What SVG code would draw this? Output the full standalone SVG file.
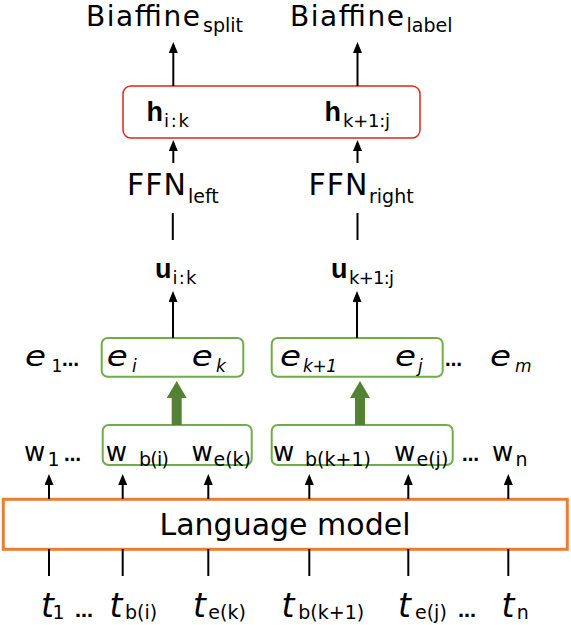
<svg xmlns="http://www.w3.org/2000/svg" width="571" height="625" viewBox="0 0 571 625">
<style>
text{font-family:"DejaVu Sans",sans-serif;fill:#000}
.big{font-size:28px}
.sub{font-size:19px}
.ffn{font-size:30px}
.hb{font-family:"Liberation Sans",Arial,sans-serif;font-size:27px;font-weight:bold}
.hs{font-size:18px}
.ev{font-size:28px;font-style:italic}
.es{font-size:17px;font-style:italic}
.wv{font-size:26px}
.ws{font-size:19px}
.tv{font-size:33px;font-style:italic}
.ts{font-size:19px}
.dots{font-size:17px;font-weight:bold}
.lm{font-size:30px}
.ln{stroke:#000;stroke-width:2;fill:none}
.arr{marker-end:url(#ah)}
.gbox{fill:none;stroke:#70AD47;stroke-width:2}
.garrow{fill:#548235}
</style>
<defs>
<marker id="ah" markerUnits="userSpaceOnUse" markerWidth="11" markerHeight="9" viewBox="0 0 11 9" refX="8" refY="4.5" orient="auto"><path d="M0,0 L11,4.5 L0,9 z" fill="#000"/></marker>
</defs>
<rect width="571" height="625" fill="#fff"/>

<g id="biaffine-split"><text class="big" x="86" y="26" textLength="114">Biaffine</text><text class="sub" x="203" y="32">split</text></g>
<g id="biaffine-label"><text class="big" x="290" y="26" textLength="114">Biaffine</text><text class="sub" x="406.5" y="32">label</text></g>

<g id="h-box">
<rect x="123" y="86" width="297" height="52" rx="8" fill="#fff" stroke="#E0261E" stroke-width="1.5"/>
<text class="hb" x="146.5" y="121">h</text><text class="hs" x="164" y="127" textLength="25">i:k</text>
<text class="hb" x="324.5" y="121">h</text><text class="hs" x="343" y="127" textLength="47">k+1:j</text>
</g>

<g id="ffn-left"><text class="ffn" x="127" y="195" textLength="59">FFN</text><text class="sub" x="188" y="203">left</text></g>
<g id="ffn-right"><text class="ffn" x="308.5" y="195" textLength="59">FFN</text><text class="sub" x="369" y="203">right</text></g>

<g id="u-left"><text class="hb" x="155" y="278">u</text><text class="hs" x="172.5" y="284" textLength="24">i:k</text></g>
<g id="u-right"><text class="hb" x="331" y="278">u</text><text class="hs" x="349" y="284" textLength="45">k+1:j</text></g>

<g id="e-row">
<text class="ev" x="25" y="366" textLength="21" lengthAdjust="spacingAndGlyphs">e</text><text class="ws" x="51.5" y="372" style="font-size:17px">1</text>
<text class="dots" x="62" y="366">…</text>
<text class="dots" x="445" y="366">…</text>
<text class="ev" x="490" y="366" textLength="21" lengthAdjust="spacingAndGlyphs">e</text><text class="es" x="515" y="372">m</text>
</g>
<g id="e-span-left">
<rect class="gbox" x="101.7" y="338" width="141.6" height="38.7" rx="6"/>
<text class="ev" x="106.7" y="366" textLength="21" lengthAdjust="spacingAndGlyphs">e</text><text class="es" x="132" y="372">i</text>
<text class="ev" x="191.7" y="366" textLength="21" lengthAdjust="spacingAndGlyphs">e</text><text class="es" x="216" y="372">k</text>
</g>
<g id="e-span-right">
<rect class="gbox" x="271.7" y="338" width="171" height="38.7" rx="6"/>
<text class="ev" x="280" y="366" textLength="21" lengthAdjust="spacingAndGlyphs">e</text><text class="es" x="303" y="372" textLength="34">k+1</text>
<text class="ev" x="395" y="366" textLength="21" lengthAdjust="spacingAndGlyphs">e</text><text class="es" x="418" y="372">j</text>
</g>

<g id="w-row">
<text class="wv" x="24" y="461">w</text><text class="ws" x="47.5" y="466">1</text>
<text class="dots" x="64" y="461">…</text>
<text class="dots" x="462" y="461">…</text>
<text class="wv" x="492" y="461">w</text><text class="ws" x="515.5" y="466">n</text>
</g>
<g id="w-span-left">
<rect class="gbox" x="102.7" y="425" width="149" height="40" rx="6"/>
<text class="wv" x="105.7" y="461">w</text><text class="ws" x="139" y="466" textLength="30">b(i)</text>
<text class="wv" x="191.5" y="461">w</text><text class="ws" x="213.5" y="466">e(k)</text>
</g>
<g id="w-span-right">
<rect class="gbox" x="271.7" y="425" width="181" height="40" rx="6"/>
<text class="wv" x="273" y="461">w</text><text class="ws" x="305" y="466">b(k+1)</text>
<text class="wv" x="394" y="461">w</text><text class="ws" x="416.5" y="466">e(j)</text>
</g>

<g id="language-model">
<rect x="3.3" y="499.3" width="564" height="50" fill="#fff" stroke="#ED7D31" stroke-width="3"/>
<text class="lm" x="285" y="535" text-anchor="middle" textLength="251">Language model</text>
</g>

<g id="t-row">
<text class="tv" x="41" y="617">t</text><text class="ts" x="52.5" y="619">1</text>
<text class="dots" x="75" y="617" style="font-size:18px">…</text>
<text class="tv" x="109.5" y="617">t</text><text class="ts" x="125" y="619">b(i)</text>
<text class="tv" x="193" y="617">t</text><text class="ts" x="208.3" y="619">e(k)</text>
<text class="tv" x="281.5" y="617">t</text><text class="ts" x="298.3" y="619">b(k+1)</text>
<text class="tv" x="398" y="617">t</text><text class="ts" x="415" y="619">e(j)</text>
<text class="dots" x="458" y="617" style="font-size:18px">…</text>
<text class="tv" x="501.5" y="617">t</text><text class="ts" x="516.7" y="619">n</text>
</g>

<g id="connectors">
<line class="ln arr" x1="173.3" y1="86" x2="173.3" y2="45"/>
<line class="ln arr" x1="357.5" y1="86" x2="357.5" y2="45"/>
<line class="ln arr" x1="173.3" y1="163" x2="173.3" y2="143"/>
<line class="ln arr" x1="357.5" y1="163" x2="357.5" y2="143"/>
<line class="ln" x1="172.8" y1="213" x2="172.8" y2="240"/>
<line class="ln" x1="357.5" y1="213" x2="357.5" y2="240"/>
<line class="ln arr" x1="173" y1="338" x2="173" y2="294"/>
<line class="ln arr" x1="357" y1="338" x2="357" y2="294"/>
<polygon class="garrow" points="176.7,381 186.7,398 181.7,398 181.7,425 171.7,425 171.7,398 166.7,398"/>
<polygon class="garrow" points="360,381 370,398 365,398 365,425 355,425 355,398 350,398"/>
<line class="ln arr" x1="49" y1="499" x2="49" y2="477"/>
<line class="ln arr" x1="122.7" y1="499" x2="122.7" y2="477"/>
<line class="ln arr" x1="208.3" y1="499" x2="208.3" y2="477"/>
<line class="ln arr" x1="309.3" y1="499" x2="309.3" y2="477"/>
<line class="ln arr" x1="408.3" y1="499" x2="408.3" y2="477"/>
<line class="ln arr" x1="508.3" y1="499" x2="508.3" y2="477"/>
<line class="ln" x1="49" y1="549" x2="49" y2="576"/>
<line class="ln" x1="122.7" y1="549" x2="122.7" y2="576"/>
<line class="ln" x1="208.3" y1="549" x2="208.3" y2="576"/>
<line class="ln" x1="309.3" y1="549" x2="309.3" y2="576"/>
<line class="ln" x1="408.3" y1="549" x2="408.3" y2="576"/>
<line class="ln" x1="508.3" y1="549" x2="508.3" y2="576"/>
</g>
</svg>
